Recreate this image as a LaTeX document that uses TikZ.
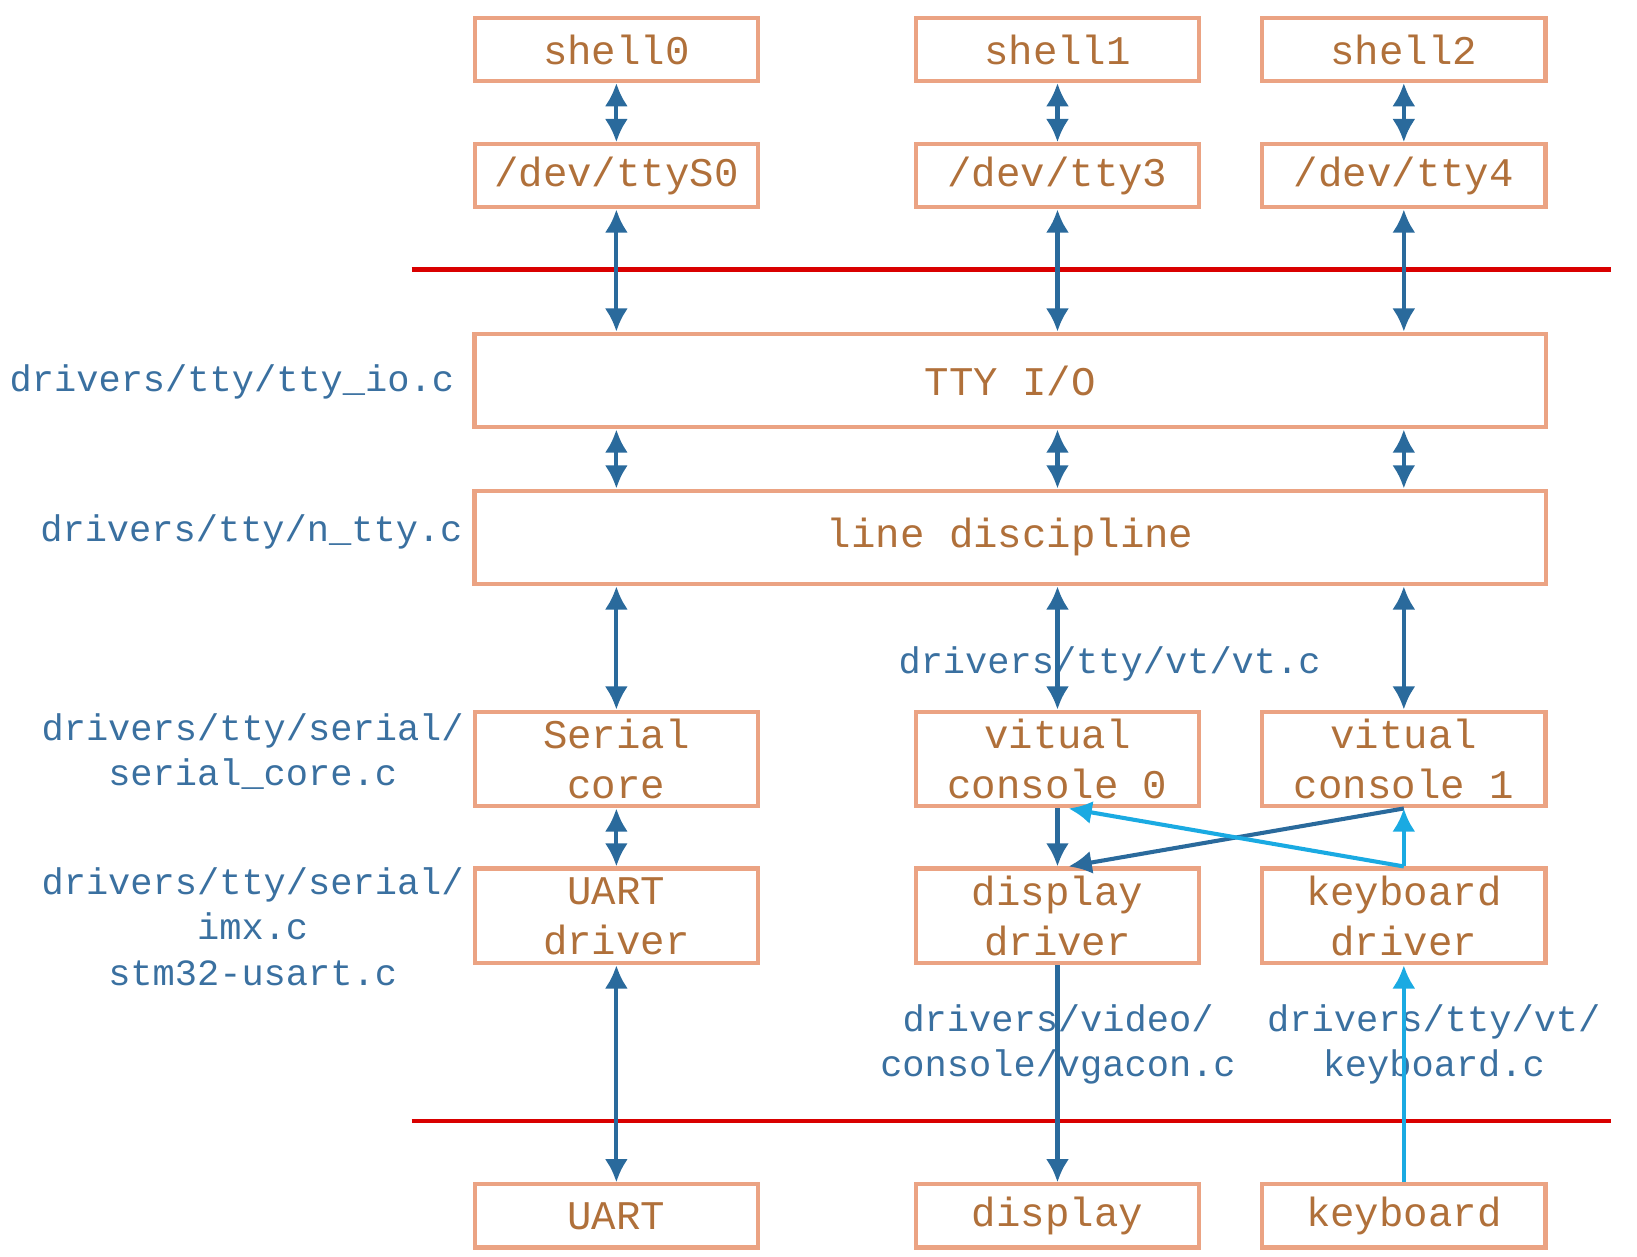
\documentclass[tikz,border=0pt]{standalone}
\usepackage{fontspec}
\setmainfont{Liberation Mono}
\usetikzlibrary{arrows.meta}
\definecolor{boxline}{HTML}{EBA383}
\definecolor{boxtext}{HTML}{B0703A}
\definecolor{arr}{HTML}{2A6A9C}
\definecolor{arrl}{HTML}{1AAAE2}
\definecolor{lab}{HTML}{3A70A0}
\tikzset{
  box/.style={draw=boxline, line width=1.1pt, text=boxtext, font=\fontsize{11}{13.5}\selectfont,
    minimum width=2.69cm, minimum height=0.6cm, inner sep=0pt, align=center},
  tall/.style={box, minimum height=0.9cm},
  wide/.style={box, minimum width=10.17cm, minimum height=0.89cm},
  lab/.style={text=lab, font=\fontsize{10}{12.3}\selectfont, align=center, inner sep=0pt},
  bi/.style={draw=arr, line width=1.1pt, {Latex[length=2.2mm,width=2.2mm]}-{Latex[length=2.2mm,width=2.2mm]}},
  one/.style={draw=arr, line width=1.1pt, -{Latex[length=2.2mm,width=2.2mm]}},
  onel/.style={draw=arrl, line width=1.1pt, -{Latex[length=2.2mm,width=2.2mm]}},
  red/.style={draw=red!85!black, line width=1.1pt}
}
\begin{document}
\begin{tikzpicture}[x=0.01cm,y=-0.01cm]
\useasboundingbox (0,0) rectangle (1555,1194);
% top row
\node[box] (s0) at (585.5,47) {shell0};
\node[box] (s1) at (1004.5,47) {shell1};
\node[box] (s2) at (1333.5,47) {shell2};
\node[box] (d0) at (585.5,167) {/dev/ttyS0};
\node[box] (d1) at (1004.5,167) {/dev/tty3};
\node[box] (d2) at (1333.5,167) {/dev/tty4};
% core layers
\node[wide] (tty) at (959.5,361.5) {TTY I/O};
\node[wide] (ld) at (959.5,510.5) {line discipline};
% drivers
\node[tall] (sc) at (585.5,721) {Serial\\core};
\node[tall] (vc0) at (1004.5,721) {vitual\\console 0};
\node[tall] (vc1) at (1333.5,721) {vitual\\console 1};
\node[tall] (ud) at (585.5,870) {UART\\driver};
\node[tall] (dd) at (1004.5,870) {display\\driver};
\node[tall] (kd) at (1333.5,870) {keyboard\\driver};
% hardware
\node[box] (uart) at (585.5,1155) {UART};
\node[box] (disp) at (1004.5,1155) {display};
\node[box] (kbd) at (1333.5,1155) {keyboard};
% red boundaries
\coordinate (r1a) at (391,256); \coordinate (r1b) at (1530,256);
\coordinate (r2a) at (391,1065); \coordinate (r2b) at (1530,1065);
\draw[red] (r1a) -- (r1b);
\draw[red] (r2a) -- (r2b);
% labels
\node[lab, anchor=east] (l1) at (432,363) {drivers/tty/tty\_io.c};
\node[lab, anchor=east] (l2) at (440,505) {drivers/tty/n\_tty.c};
\node[lab] (l3) at (240,714) {drivers/tty/serial/\\serial\_core.c};
\node[lab] (l4) at (240,880) {drivers/tty/serial/\\imx.c\\stm32-usart.c};
\node[lab] (l5) at (1054,631) {drivers/tty/vt/vt.c};
\node[lab] (l6) at (1005,992) {drivers/video/\\console/vgacon.c};
\node[lab] (l7) at (1362,992) {drivers/tty/vt/\\keyboard.c};
% arrows
\foreach \a/\b in {s0/d0,s1/d1,s2/d2}
  \draw[bi] (\a.south) -- (\b.north);
\foreach \a in {d0,d1,d2} {
  \draw[bi] (\a.south) -- (\a.south |- tty.north);
  \draw[bi] (\a.south |- tty.south) -- (\a.south |- ld.north);
}
\draw[bi] (sc.north |- ld.south) -- (sc.north);
\draw[bi] (vc0.north |- ld.south) -- (vc0.north);
\draw[bi] (vc1.north |- ld.south) -- (vc1.north);
\draw[bi] (sc.south) -- (ud.north);
\draw[bi] (ud.south) -- (uart.north);
\draw[one] (vc0.south) -- (dd.north);
\draw[one] (vc1.south) -- ([xshift=3pt]dd.north);
\draw[onel] (kd.north) -- ([xshift=3pt]vc0.south);
\draw[onel] (kd.north) -- (vc1.south);
\draw[one] (dd.south) -- (disp.north);
\draw[onel] (kbd.north) -- (kd.south);
\end{tikzpicture}
\end{document}
